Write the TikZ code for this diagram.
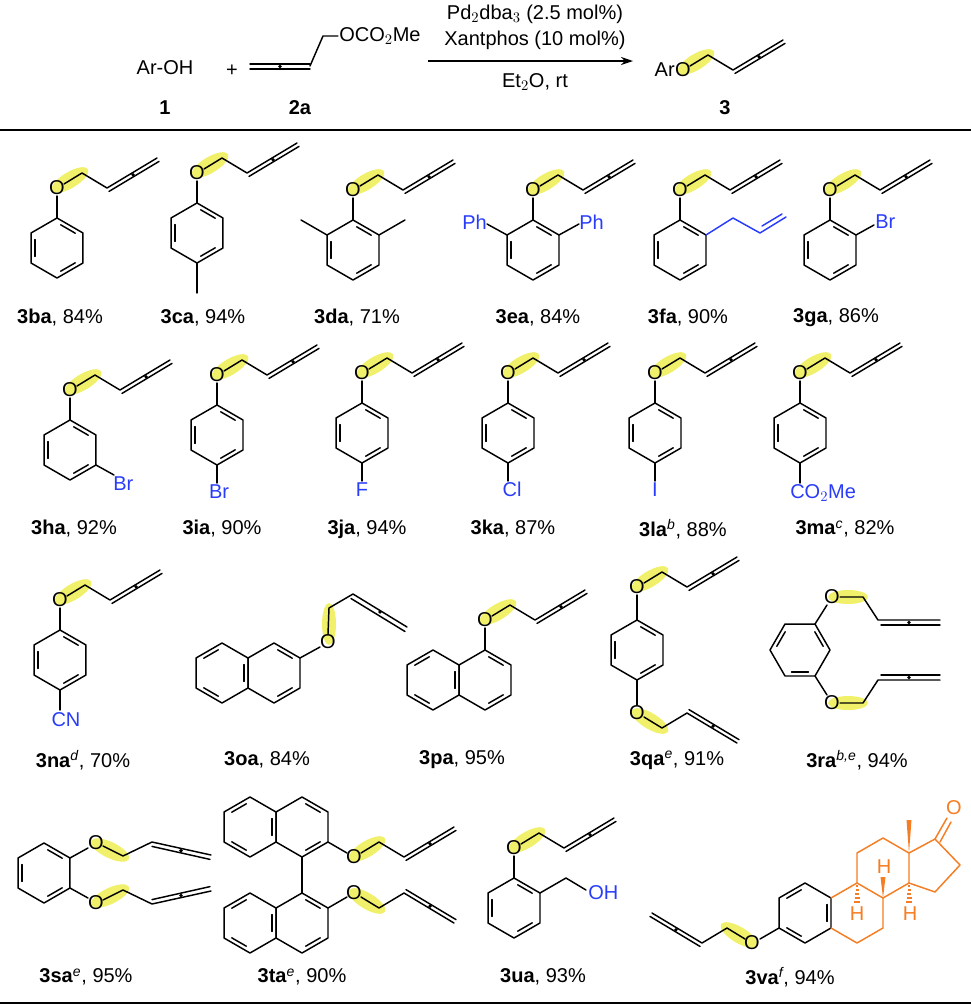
\documentclass[tikz,border=0pt]{standalone}
\usepackage{fontspec}
\setmainfont{Liberation Sans}
\usetikzlibrary{calc,arrows.meta}
\definecolor{hlc}{RGB}{236,236,70}
\definecolor{subc}{RGB}{40,60,250}
\definecolor{orc}{RGB}{245,125,35}
\tikzset{
 bond/.style={line width=1.1pt,line join=round,line cap=round},
 hl/.style={fill=hlc,fill opacity=0.8},
 atom/.style={inner sep=0pt,font=\fontsize{15}{15}\selectfont},
 sub/.style={inner sep=0pt,font=\fontsize{15}{15}\selectfont,text=subc},
 lab/.style={inner sep=0pt,font=\fontsize{15}{15}\selectfont},
 allene/.pic={
  \fill[hl,rotate around={31:(13,-8)}] (13,-8) ellipse [x radius=21,y radius=8];
  \node[atom] at (0,0) {O};
  \draw[bond] (7,-4) -- (25,-15) -- (50,0) -- (100,-30);
  \draw[bond] (52,3.4) -- (102,-26.6);
  \fill (76,-13.3) circle (1.9);
 },
 allsa/.pic={
  \fill[hl,rotate around={-26:(14,7)}] (14,7) ellipse [x radius=21,y radius=8];
  \node[atom] at (0,0) {O};
  \draw[bond] (7,3) -- (27,13) -- (56,-1) -- (115,12);
  \draw[bond] (56,3.4) -- (114,16.4);
  \fill (85,7.6) circle (1.9);
 },
 allra/.pic={
  \fill[hl] (16,0) ellipse [x radius=20,y radius=7];
  \node[atom] at (0,0) {O};
  \draw[bond] (8,0) -- (31,0) -- (46,23) -- (108,23);
  \draw[bond] (49,28) -- (108,28);
  \fill (77,25.5) circle (1.9);
 }
}
\newcommand\hexr[4]{\coordinate (#1) at (#2,#3);
 \draw[bond] ($(#1)+(#4-90:30)$) -- ($(#1)+(#4-30:30)$) -- ($(#1)+(#4+30:30)$) -- ($(#1)+(#4+90:30)$) -- ($(#1)+(#4+150:30)$) -- ($(#1)+(#4+210:30)$) -- cycle;}
\newcommand\inl[2]{\draw[bond] ($(#1)+(#2+9:23.5)$) -- ($(#1)+(#2+51:23.5)$);}
\newcommand\phenoxy[3]{\pic at (#2,#3) {allene};
 \hexr{#1}{#2}{#3+60}{0}
 \draw[bond] (#2,#3+8) -- ($(#1)+(-90:30)$);
 \inl{#1}{-90}\inl{#1}{30}\inl{#1}{150}}
\newcommand\naph[4]{\hexr{#1}{#3}{#4}{0}\hexr{#2}{#3+52}{#4}{0}
 \inl{#1}{-30}\inl{#1}{90}\inl{#1}{210}\inl{#2}{-90}\inl{#2}{30}}
\begin{document}
\begin{tikzpicture}[x=0.75pt,y=-0.75pt]
\useasboundingbox (0,0) rectangle (971,1007);
% header
\node[atom] (aroh) at (165,68) {Ar-OH};
\node[atom] (one) at (165,108) {\textbf{1}};
\node[atom] (plus) at (232,71) {+};
\draw[bond] (250,64) -- (310,64);
\draw[bond] (250,69) -- (310,69);
\fill (280,66.5) circle (1.9);
\draw[bond] (310,66) -- (323,36) -- (338,36);
\node[atom,anchor=west] (oco) at (339,36) {OCO$_2$Me};
\node[atom] (twoa) at (300,108) {\textbf{2a}};
\coordinate (arrs) at (428,61);
\coordinate (arre) at (633,61);
\draw[line width=1pt,-{Stealth[length=9pt,width=6pt]}] (arrs) -- (arre);
\node[atom] (c1) at (535,14) {Pd$_2$dba$_3$ (2.5 mol\%)};
\node[atom] (c2) at (535,40) {Xantphos (10 mol\%)};
\node[atom] (c3) at (535,82) {Et$_2$O, rt};
\node[atom,anchor=east] (ar) at (675,70) {Ar};
\pic at (683,70) {allene};
\node[atom] (three) at (725,108) {\textbf{3}};
\draw[line width=1.5pt] (0,130) -- (971,130);
\draw[line width=1.5pt] (0,1003) -- (971,1003);
% row 1
\phenoxy{r1}{57}{188}
\phenoxy{r2}{197}{173}
\draw[bond] ($(r2)+(90:30)$) -- ++(0,30);
\phenoxy{r3}{353}{190}
\draw[bond] ($(r3)+(210:30)$) -- ++(-26,-15);
\draw[bond] ($(r3)+(-30:30)$) -- ++(26,-15);
\phenoxy{r4}{533}{190}
\draw[bond] ($(r4)+(210:30)$) -- ++(-20,-11);
\draw[bond] ($(r4)+(-30:30)$) -- ++(20,-11);
\node[sub,anchor=east] (ph1) at (487,222) {Ph};
\node[sub,anchor=west] (ph2) at (579,222) {Ph};
\phenoxy{r5}{680}{190}
\draw[bond,subc] ($(r5)+(-30:30)$) -- (733,218) -- (760,233) -- (786,217);
\draw[bond,subc] (762,226) -- (782,214);
\phenoxy{r6}{830}{190}
\draw[bond] ($(r6)+(-30:30)$) -- ++(18,-10);
\node[sub,anchor=west] (br1) at (875,222) {Br};
\node[lab] (l3ba) at (60,318) {\textbf{3ba}, 84\%};
\node[lab] (l3ca) at (203,318) {\textbf{3ca}, 94\%};
\node[lab] (l3da) at (357,318) {\textbf{3da}, 71\%};
\node[lab] (l3ea) at (538,318) {\textbf{3ea}, 84\%};
\node[lab] (l3fa) at (688,318) {\textbf{3fa}, 90\%};
\node[lab] (l3ga) at (836,318) {\textbf{3ga}, 86\%};
% row 2
\phenoxy{r7}{70}{390}
\draw[bond] ($(r7)+(30:30)$) -- ++(18,10);
\node[sub,anchor=west] (br2) at (113,484) {Br};
\phenoxy{r8}{217}{375}
\draw[bond] ($(r8)+(90:30)$) -- ++(0,18);
\node[sub,anchor=north] (br3) at (219,484) {Br};
\phenoxy{r9}{362}{373}
\draw[bond] ($(r9)+(90:30)$) -- ++(0,18);
\node[sub,anchor=north] (f1) at (362,482) {F};
\phenoxy{r10}{508}{373}
\draw[bond] ($(r10)+(90:30)$) -- ++(0,18);
\node[sub,anchor=north] (cl1) at (512,482) {Cl};
\phenoxy{r11}{655}{373}
\draw[bond] ($(r11)+(90:30)$) -- ++(0,18);
\node[sub,anchor=north] (i1) at (655,482) {I};
\phenoxy{r12}{800}{373}
\draw[bond] ($(r12)+(90:30)$) -- ++(0,20);
\node[sub,anchor=north west] (co2me) at (790,484) {CO$_2$Me};
\node[lab] (l3ha) at (74,529) {\textbf{3ha}, 92\%};
\node[lab] (l3ia) at (222,529) {\textbf{3ia}, 90\%};
\node[lab] (l3ja) at (367,529) {\textbf{3ja}, 94\%};
\node[lab] (l3ka) at (513,529) {\textbf{3ka}, 87\%};
\node[lab] (l3la) at (683,529) {\textbf{3la}\textsuperscript{\itshape b}, 88\%};
\node[lab] (l3ma) at (845,529) {\textbf{3ma}\textsuperscript{\itshape c}, 82\%};
% row 3
\phenoxy{r13}{60}{600}
\draw[bond] ($(r13)+(90:30)$) -- ++(0,20);
\node[sub,anchor=north] (cn) at (66,712) {CN};
\naph{n1}{n2}{222}{673}
\draw[bond] ($(n2)+(-30:30)$) -- (320,647);
\fill[hl] (329,624) ellipse [x radius=7,y radius=21];
\node[atom] (o3oa) at (328,642) {O};
\draw[bond] (328,634) -- (329,608) -- (353,594) -- (407,627);
\draw[bond] (351,598.5) -- (405,631.5);
\fill (380,612) circle (1.9);
\naph{p1}{p2}{433}{680}
\pic at (485,620) {allene};
\draw[bond] (485,628) -- ($(p2)+(-90:30)$);
\hexr{q1}{637}{650}{0}
\inl{q1}{-90}\inl{q1}{30}\inl{q1}{150}
\pic at (637,587) {allene};
\pic[yscale=-1] at (637,713) {allene};
\draw[bond] (637,595) -- ($(q1)+(-90:30)$);
\draw[bond] (637,705) -- ($(q1)+(90:30)$);
\hexr{s1}{800}{650}{30}
\inl{s1}{-60}\inl{s1}{60}\inl{s1}{180}
\draw[bond] ($(s1)+(-60:30)$) -- (827,605);
\draw[bond] ($(s1)+(60:30)$) -- (827,695);
\pic at (832,597) {allra};
\pic[yscale=-1] at (832,703) {allra};
\node[lab] (l3na) at (83,760) {\textbf{3na}\textsuperscript{\itshape d}, 70\%};
\node[lab] (l3oa) at (267,760) {\textbf{3oa}, 84\%};
\node[lab] (l3pa) at (462,760) {\textbf{3pa}, 95\%};
\node[lab] (l3qa) at (677,760) {\textbf{3qa}\textsuperscript{\itshape e}, 91\%};
\node[lab] (l3ra) at (857,760) {\textbf{3ra}\textsuperscript{\itshape b,e}, 94\%};
% row 4
\hexr{t1}{44}{873}{0}
\inl{t1}{150}\inl{t1}{-90}\inl{t1}{30}
\draw[bond] ($(t1)+(-30:30)$) -- (88,848);
\draw[bond] ($(t1)+(30:30)$) -- (88,898);
\pic at (96,843) {allsa};
\pic[yscale=-1] at (96,903) {allsa};
\naph{u1}{u2}{250}{827}
\naph{v1}{v2}{250}{923}
\draw[bond] ($(u2)+(90:30)$) -- ($(v2)+(-90:30)$);
\draw[bond] ($(u2)+(30:30)$) -- (347,853);
\draw[bond] ($(v2)+(-30:30)$) -- (347,897);
\pic at (354,857) {allene};
\pic[yscale=-1] at (354,893) {allene};
\phenoxy{w1}{514}{848}
\draw[bond] ($(w1)+(-30:30)$) -- (566,878) -- (586,890);
\node[sub,anchor=west] (oh) at (588,893) {OH};
% 3va
\hexr{a1}{805}{913}{0}
\inl{a1}{210}\inl{a1}{-30}\inl{a1}{90}
\draw[bond] ($(a1)+(150:30)$) -- (760,939);
\pic[xscale=-1] at (752,943) {allene};
\begin{scope}[orc]
\draw[bond] (831,898) -- (857,883) -- (883,898) -- (883,928) -- (857,943) -- (831,928);
\draw[bond] (857,883) -- (857,853) -- (883,838) -- (909,853) -- (909,883) -- (883,898);
\draw[bond] (909,853) -- (935,839) -- (960,865) -- (935,892) -- (909,883);
\draw[bond] (935,839) -- (947,818);
\draw[bond] (940,842) -- (951,822);
\node[atom,text=orc] (ok) at (954,808) {O};
\fill (909,853) -- (906.5,820) -- (911.5,820) -- cycle;
\fill (883,898) -- (880.5,877) -- (885.5,877) -- cycle;
\node[atom,text=orc] (h8) at (884,867) {H};
\foreach \d in {0,4,8,12,16}{
 \draw[line width=0.9pt] (857-1-\d/8,886+\d) -- (857+1+\d/8,886+\d);
 \draw[line width=0.9pt] (909-1-\d/8,886+\d) -- (909+1+\d/8,886+\d);}
\node[atom,text=orc] (h9) at (857,914) {H};
\node[atom,text=orc] (h14) at (910,914) {H};
\end{scope}
\node[lab] (l3sa) at (86,977) {\textbf{3sa}\textsuperscript{\itshape e}, 95\%};
\node[lab] (l3ta) at (302,977) {\textbf{3ta}\textsuperscript{\itshape e}, 90\%};
\node[lab] (l3ua) at (543,977) {\textbf{3ua}, 93\%};
\node[lab] (l3va) at (790,977) {\textbf{3va}\textsuperscript{\itshape f}, 94\%};
\end{tikzpicture}
\end{document}
